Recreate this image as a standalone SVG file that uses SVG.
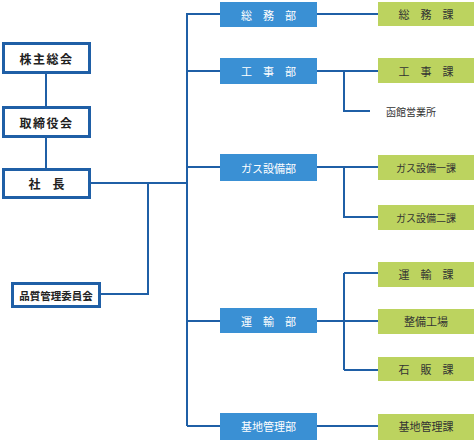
<svg xmlns="http://www.w3.org/2000/svg" width="474" height="440" viewBox="0 0 474 440">
<style>
.top{fill:#fff;stroke:#1f5fa6;stroke-width:3}
.dept{fill:#3a90d4}
.sec{fill:#bcd35f}
.t{font-family:"Noto Sans CJK JP","Noto Sans",sans-serif;text-anchor:middle;dominant-baseline:central}
.tb{font-size:12px;font-weight:bold;fill:#222}
.tw{font-size:11px;fill:#fff}
.tg{font-size:11px;fill:#333}
.ln{fill:none;stroke:#1f5fa6;stroke-width:2}
</style>
<rect width="474" height="440" fill="#fff"/>
<g id="connectors" class="ln">
<path d="M46 73V107M46 137V169"/>
<path d="M90 183H187M100 294H148V183"/>
<path d="M187 13V426"/>
<path d="M187 14H220M187 71H220M187 167H220M187 321H220M187 426H220"/>
<path d="M317 14H378M317 71H378M344 71V111H370"/>
<path d="M317 167H378M344 167V217H378"/>
<path d="M317 321H378M344 273V370M344 273H378M344 370H378"/>
<path d="M317 426H378"/>
</g>
<g id="n-kabunushi"><rect class="top" x="3.5" y="43.5" width="86" height="29"/><text class="t tb" x="46.5" y="58" letter-spacing="1.5">株主総会</text></g>
<g id="n-torishimari"><rect class="top" x="3.5" y="107.5" width="86" height="29"/><text class="t tb" x="46.5" y="122" letter-spacing="1.5">取締役会</text></g>
<g id="n-shacho"><rect class="top" x="3.5" y="169.5" width="86" height="28"/><text class="t tb" x="46.5" y="183">社　長</text></g>
<g id="n-hinshitsu"><rect class="top" x="12.5" y="283.5" width="87" height="23"/><text class="t tb" x="56" y="295" style="font-size:10.5px">品質管理委員会</text></g>
<g id="d-somu"><rect class="dept" x="220" y="2" width="97" height="25"/><text class="t tw" x="268.5" y="14.5">総　務　部</text></g>
<g id="d-koji"><rect class="dept" x="220" y="58" width="97" height="26"/><text class="t tw" x="268.5" y="71">工　事　部</text></g>
<g id="d-gas"><rect class="dept" x="220" y="154" width="97" height="27"/><text class="t tw" x="268.5" y="167.5">ガス設備部</text></g>
<g id="d-unyu"><rect class="dept" x="220" y="308" width="97" height="25"/><text class="t tw" x="268.5" y="321">運　輸　部</text></g>
<g id="d-kichi"><rect class="dept" x="220" y="413" width="97" height="27"/><text class="t tw" x="268.5" y="426">基地管理部</text></g>
<g id="s-somu"><rect class="sec" x="378" y="2" width="96" height="24"/><text class="t tg" x="426" y="14">総　務　課</text></g>
<g id="s-koji"><rect class="sec" x="378" y="58" width="96" height="25"/><text class="t tg" x="426" y="71">工　事　課</text></g>
<g id="s-hakodate"><text class="t" x="411" y="111" style="font-size:10px;fill:#333">函館営業所</text></g>
<g id="s-gas1"><rect class="sec" x="378" y="155" width="96" height="25"/><text class="t tg" x="426" y="167.5" style="font-size:10px">ガス設備一課</text></g>
<g id="s-gas2"><rect class="sec" x="378" y="205" width="96" height="25"/><text class="t tg" x="426" y="217.5" style="font-size:10px">ガス設備二課</text></g>
<g id="s-unyu"><rect class="sec" x="378" y="262" width="96" height="25"/><text class="t tg" x="426" y="274">運　輸　課</text></g>
<g id="s-seibi"><rect class="sec" x="378" y="309" width="96" height="25"/><text class="t tg" x="426" y="321">整備工場</text></g>
<g id="s-sekihan"><rect class="sec" x="378" y="357" width="96" height="24"/><text class="t tg" x="426" y="369">石　販　課</text></g>
<g id="s-kichi"><rect class="sec" x="378" y="414" width="96" height="26"/><text class="t tg" x="426" y="426">基地管理課</text></g>
</svg>
